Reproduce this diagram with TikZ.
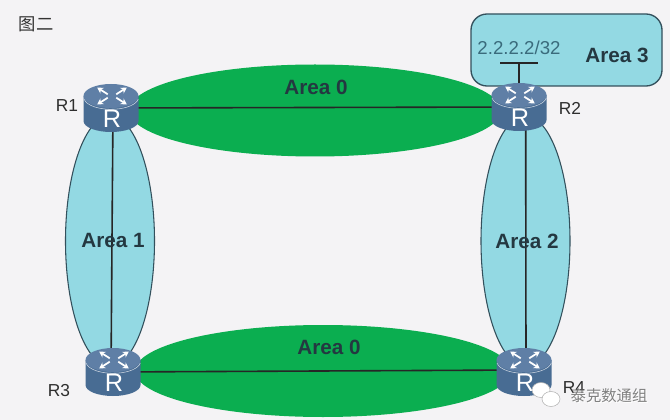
\documentclass[tikz,border=0pt]{standalone}
\usepackage{fontspec}
\setmainfont{Liberation Sans}
\newfontfamily\cjkfont{Noto Sans CJK SC}
\usetikzlibrary{arrows.meta}
\definecolor{pagebg}{HTML}{F4F3F5}
\definecolor{greenarea}{HTML}{0BAE50}
\definecolor{cyanarea}{HTML}{93D9E3}
\definecolor{edgeteal}{HTML}{33505C}
\definecolor{routerbody}{HTML}{486C93}
\definecolor{routertop}{HTML}{5F7FA6}
\definecolor{iptext}{HTML}{3A6B7C}
\definecolor{labeltext}{HTML}{2E2E2E}
\tikzset{
  x=0.75pt,y=-0.75pt,
  greenell/.style={fill=greenarea,draw=none},
  cyanell/.style={fill=cyanarea,draw=edgeteal,line width=0.8pt},
  link/.style={draw=black!85,line width=1.2pt},
  arealabel/.style={font=\bfseries\fontsize{15.5}{17}\selectfont,text=edgeteal!70!black,inner sep=0pt},
  rlabel/.style={font=\fontsize{13}{15}\selectfont,text=labeltext,inner sep=0pt},
  routeranchor/.style={minimum width=41pt,minimum height=36pt,inner sep=0pt},
  rarrow/.style={draw=white,line width=1.3pt,-{Stealth[length=4.5pt,width=5pt]}},
  router/.pic={
    \fill[routerbody] (-27.5,-12) -- (27.5,-12) -- (27.5,13)
      arc[start angle=0,end angle=180,x radius=27.5,y radius=11] -- cycle;
    \fill[routertop] (0,-12) ellipse[x radius=27.5,y radius=12];
    \draw[white!70!routertop,line width=0.4pt] (-27,-9) arc[start angle=172,end angle=8,x radius=27.4,y radius=12];
    \foreach \a in {45,135,225,315}{
      \draw[rarrow] ({1+6*cos(\a)},{-12+2.4*sin(\a)}) -- ({1+21*cos(\a)},{-12+12*sin(\a)});
    }
    \node[text=white,inner sep=0pt,font=\fontsize{19}{19}\selectfont] at (1,11) {R};
  }
}
\begin{document}
\begin{tikzpicture}
\useasboundingbox (0,0) rectangle (670,420);
\fill[pagebg] (0,0) rectangle (670,420);
% area shapes
\fill[greenell] (315,110.5) ellipse[x radius=186,y radius=46];
\fill[greenell] (323,371) ellipse[x radius=188,y radius=46];
\draw[cyanell] (110,241) ellipse[x radius=44.5,y radius=125];
\draw[cyanell] (525.5,241) ellipse[x radius=44.5,y radius=125];
\draw[cyanell,fill=cyanarea,line width=1pt,rounded corners=12pt] (471,14) rectangle (662,86);
% anchors
\node[routeranchor] (r1) at (111,108) {};
\node[routeranchor] (r2) at (519,107) {};
\node[routeranchor] (r3) at (113,372) {};
\node[routeranchor] (r4) at (524,372) {};
\coordinate (hostbar) at (519,63);
\coordinate (hostl) at (500,63);
\coordinate (hostr) at (538,63);
% links
\draw[link] (r1.center) -- (r2.center);
\draw[link] (r3.center) -- ([yshift=1.5pt]r4.center);
\draw[link] ([xshift=1.5pt]r1.center) -- ([xshift=-1.5pt]r3.center);
\draw[link] ([xshift=5pt]r2.center) -- ([xshift=1.5pt]r4.center);
\draw[link] (hostl) -- (hostr);
\draw[link] (hostbar) -- (r2.center);
% routers
\pic at (r1) {router};
\pic at (r2) {router};
\pic at (r3) {router};
\pic at (r4) {router};
% labels
\node[arealabel] (a0t) at (316,87) {Area 0};
\node[arealabel] (a0b) at (329,347) {Area 0};
\node[arealabel] (a1) at (113,240) {Area 1};
\node[arealabel] (a2) at (527,241) {Area 2};
\node[arealabel] (a3) at (617,55) {Area 3};
\node[inner sep=0pt,text=iptext,font=\fontsize{14}{15}\selectfont] (ip) at (519,48) {2.2.2.2/32};
\node[rlabel] (l1) at (67,106) {R1};
\node[rlabel] (l2) at (570,108) {R2};
\node[rlabel] (l3) at (59,391) {R3};
\node[rlabel] (l4) at (574,388) {R4};
\node[inner sep=0pt,font=\cjkfont\fontsize{13}{15}\selectfont,text=black!80] (title) at (36,24) {图二};
% watermark
\fill[white,draw=black!30,line width=0.4pt] (541,390) ellipse[x radius=9,y radius=7.5];
\fill[white,draw=black!30,line width=0.4pt] (551,399) ellipse[x radius=9,y radius=7.5];
\node[inner sep=0pt,font=\cjkfont\fontsize{11.5}{13}\selectfont,text=white] at (610,397) {泰克数通组};
\node[inner sep=0pt,font=\cjkfont\fontsize{11.5}{13}\selectfont,text=black!50] (wm) at (609,396) {泰克数通组};
\end{tikzpicture}
\end{document}
